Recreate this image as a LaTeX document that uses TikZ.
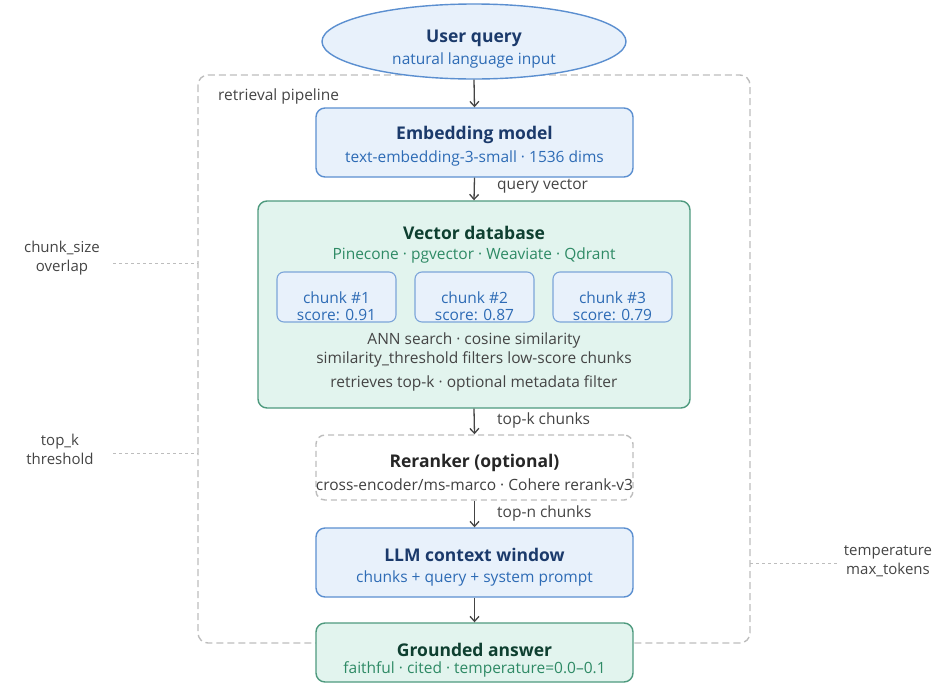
\documentclass[tikz,border=0pt]{standalone}
\usepackage{fontspec}
\setmainfont{Open Sans}
\usetikzlibrary{shapes.geometric,arrows.meta}
\definecolor{bfill}{HTML}{E8F1FB}
\definecolor{bdraw}{HTML}{5B8FD0}
\definecolor{btitle}{HTML}{1B3A6B}
\definecolor{bsub}{HTML}{2D6BB5}
\definecolor{gfill}{HTML}{E2F4EE}
\definecolor{gdraw}{HTML}{4E9A7E}
\definecolor{gtitle}{HTML}{0E3F30}
\definecolor{gsub}{HTML}{2E8A65}
\definecolor{dgray}{HTML}{444444}
\definecolor{lgray}{HTML}{BDBDBD}
\tikzset{
  bluebox/.style={draw=bdraw,fill=bfill,line width=1.4pt,rounded corners=9pt,inner sep=0pt},
  greenbox/.style={draw=gdraw,fill=gfill,line width=1.4pt,rounded corners=9pt,inner sep=0pt},
  chunkbox/.style={draw=bdraw!80,fill=bfill,line width=1.1pt,rounded corners=7pt,inner sep=0pt,minimum width=119pt,minimum height=50pt},
  ttl/.style={font=\fontsize{17.5}{20}\selectfont\bfseries,inner sep=0pt},
  btxt/.style={font=\fontsize{15.5}{17}\selectfont,text=bsub,inner sep=0pt},
  gtxt/.style={font=\fontsize{15.5}{17}\selectfont,text=gsub,inner sep=0pt},
  ntxt/.style={font=\fontsize{15.5}{17}\selectfont,text=dgray,inner sep=0pt},
  side/.style={font=\fontsize{15}{19}\selectfont,text=dgray,inner sep=0pt,align=center},
  flow/.style={draw=dgray,line width=1.3pt,-{Straight Barb[length=5pt,width=9pt,line width=1.3pt]}},
  guide/.style={draw=lgray,line width=0.8pt,dash pattern=on 3pt off 3pt},
}
\begin{document}
\begin{tikzpicture}[x=1pt,y=-1pt]
\useasboundingbox (0,0) rectangle (940,691);
% outer pipeline frame
\draw[draw=lgray,line width=1.4pt,dash pattern=on 7pt off 4pt,rounded corners=10pt] (198,75) rectangle (750,643);
\node[ntxt,anchor=west] (pipe) at (218,96) {retrieval pipeline};

% user query
\node[ellipse,draw=bdraw,fill=bfill,line width=1.4pt,minimum width=304pt,minimum height=75pt] (uq) at (474,41.5) {};
\node[ttl,text=btitle] (uqt) at (474,38) {User query};
\node[btxt] (uqs) at (474,60) {natural language input};

% embedding
\node[bluebox,minimum width=317pt,minimum height=69pt] (emb) at (474.5,142.5) {};
\node[ttl,text=btitle] (embt) at (474.5,135) {Embedding model};
\node[btxt] (embs) at (474.5,158) {text-embedding-3-small · 1536 dims};

% vector db
\node[greenbox,minimum width=432pt,minimum height=207pt] (vdb) at (474,304.5) {};
\node[ttl,text=gtitle] (vdbt) at (474,233) {Vector database};
\node[gtxt] (vdbs) at (474,255) {Pinecone · pgvector · Weaviate · Qdrant};
\node[chunkbox] (c1) at (336.5,297) {};
\node[chunkbox] (c2) at (474.5,297) {};
\node[chunkbox] (c3) at (612.5,297) {};
\foreach \n/\x/\s in {1/336.5/0.91,2/474.5/0.87,3/612.5/0.79}{
  \node[btxt] (c\n a) at (\x,298) {chunk \#\n};
  \node[btxt] (c\n b) at (\x,315) {score: \s};
}
\node[ntxt] (ann) at (474,340) {ANN search · cosine similarity};
\node[ntxt] (sim) at (474,359) {similarity\_threshold filters low-score chunks};
\node[ntxt] (ret) at (474,383) {retrieves top-k · optional metadata filter};

% reranker
\node[draw=lgray,fill=white,line width=1.4pt,dash pattern=on 6pt off 4pt,rounded corners=9pt,minimum width=317pt,minimum height=65pt,inner sep=0pt] (rr) at (474.5,467.5) {};
\node[ttl,text=black!85] (rrt) at (474.5,463) {Reranker (optional)};
\node[ntxt,text=black!75] (rrs) at (474.5,485) {cross-encoder/ms-marco · Cohere rerank-v3};

% llm
\node[bluebox,minimum width=317pt,minimum height=69pt] (llm) at (474.5,562.5) {};
\node[ttl,text=btitle] (llmt) at (474.5,555) {LLM context window};
\node[btxt] (llms) at (474.5,578) {chunks + query + system prompt};

% grounded answer
\node[greenbox,minimum width=317pt,minimum height=59pt] (ga) at (474.5,652.5) {};
\node[ttl,text=gtitle] (gat) at (474.5,650) {Grounded answer};
\node[gtxt] (gas) at (474.5,669) {faithful · cited · temperature=0.0–0.1};

% flow arrows
\draw[flow] (uq.south) -- (emb.north);
\draw[flow] (emb.south) -- (vdb.north);
\draw[flow] (vdb.south) -- (rr.north);
\draw[flow] (rr.south) -- (llm.north);
\draw[flow] (llm.south) -- (ga.north);
\node[ntxt,anchor=west] (qv) at (497,186) {query vector};
\node[ntxt,anchor=west] (tk) at (497,420) {top-k chunks};
\node[ntxt,anchor=west] (tn) at (497,513) {top-n chunks};

% side parameters
\node[side] (cs) at (62,258) {chunk\_size\\overlap};
\node[side] (tkl) at (60,449) {top\_k\\threshold};
\node[side] (tm) at (888,561) {temperature\\max\_tokens};
\coordinate (csl) at (198,263);
\coordinate (tkr) at (198,453);
\coordinate (tmr) at (750,563);
\draw[guide] (113,263) -- (csl);
\draw[guide] (113,453) -- (tkr);
\draw[guide] (tmr) -- (837,563);
\end{tikzpicture}
\end{document}
